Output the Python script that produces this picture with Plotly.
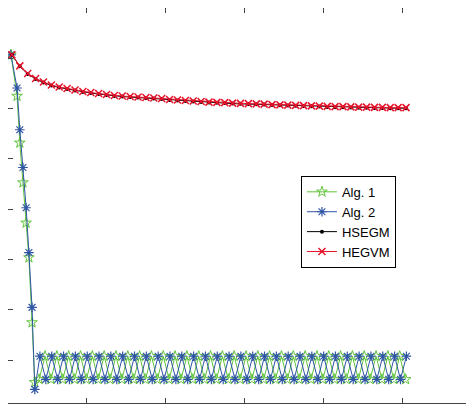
import plotly.graph_objects as go

# early iterations
alg1_x_start = [0.75, 2.3, 3.0, 3.8, 4.6, 5.3, 6.1, 6.8]
alg1_y_start = [7.07, 6.25, 5.32, 4.53, 3.73, 3.04, 1.75, 0.56]
alg2_x_start = [0.75, 2.3, 3.0, 3.8, 4.6, 5.3, 6.1, 6.8]
alg2_y_start = [7.07, 6.41, 5.58, 4.83, 4.03, 3.14, 2.05, 0.42]

# oscillating tail
alg1_y_tail = [0.62, 1.08, 0.62, 1.08, 0.62, 1.08, 0.62, 1.08, 0.62, 1.08,
               0.62, 1.08, 0.62, 1.08, 0.62, 1.08, 0.62, 1.08, 0.62, 1.08,
               0.62, 1.08, 0.62, 1.08, 0.62, 1.08, 0.62, 1.08, 0.62, 1.08,
               0.62, 1.08, 0.62, 1.08, 0.62, 1.08, 0.62, 1.08, 0.62, 1.08,
               0.62, 1.08, 0.62, 1.08, 0.62, 1.08, 0.62, 1.08, 0.62, 1.08,
               0.62, 1.08, 0.62, 1.08, 0.62, 1.08, 0.62, 1.08, 0.62, 1.08,
               0.62, 1.08, 0.62]
alg2_y_tail = [1.08, 0.62, 1.08, 0.62, 1.08, 0.62, 1.08, 0.62, 1.08, 0.62,
               1.08, 0.62, 1.08, 0.62, 1.08, 0.62, 1.08, 0.62, 1.08, 0.62,
               1.08, 0.62, 1.08, 0.62, 1.08, 0.62, 1.08, 0.62, 1.08, 0.62,
               1.08, 0.62, 1.08, 0.62, 1.08, 0.62, 1.08, 0.62, 1.08, 0.62,
               1.08, 0.62, 1.08, 0.62, 1.08, 0.62, 1.08, 0.62, 1.08, 0.62,
               1.08, 0.62, 1.08, 0.62, 1.08, 0.62, 1.08, 0.62, 1.08, 0.62,
               1.08, 0.62, 1.08]

hegvm = [7.07, 6.85, 6.70, 6.60, 6.53, 6.47, 6.43, 6.40, 6.37, 6.34,
         6.32, 6.30, 6.28, 6.26, 6.25, 6.24, 6.23, 6.22, 6.21, 6.20,
         6.18, 6.17, 6.16, 6.15, 6.14, 6.13, 6.125, 6.12, 6.11, 6.105,
         6.10, 6.095, 6.09, 6.08, 6.075, 6.07, 6.065, 6.06, 6.055, 6.05,
         6.045, 6.04, 6.04, 6.035, 6.03, 6.03, 6.025, 6.025, 6.02, 6.02, 6.02]
hsegm = [7.07, 6.84, 6.69, 6.59, 6.52, 6.46, 6.42, 6.39, 6.36, 6.33,
         6.31, 6.29, 6.27, 6.25, 6.24, 6.23, 6.22, 6.21, 6.20, 6.19,
         6.17, 6.16, 6.15, 6.14, 6.13, 6.12, 6.115, 6.11, 6.10, 6.095,
         6.09, 6.085, 6.08, 6.07, 6.065, 6.06, 6.055, 6.05, 6.045, 6.04,
         6.035, 6.03, 6.03, 6.025, 6.02, 6.02, 6.015, 6.015, 6.01, 6.01, 6.01]

alg1_x = alg1_x_start + [7.9 + 1.5 * i for i in range(len(alg1_y_tail))]
alg1_y = alg1_y_start + alg1_y_tail
alg2_x = alg2_x_start + [8.1 + 1.5 * i for i in range(len(alg2_y_tail))]
alg2_y = alg2_y_start + alg2_y_tail
iter_x = [1 + 2 * i for i in range(len(hegvm))]

green = "#5fc43a"
blue = "#2f55a5"
red = "#e8132b"

fig = go.Figure()
fig.add_trace(go.Scatter(x=alg1_x, y=alg1_y, name="Alg. 1", mode="lines+markers",
                         line=dict(color=green, width=1),
                         marker=dict(symbol="star-open", size=8, color=green, line=dict(width=1))))
fig.add_trace(go.Scatter(x=alg2_x, y=alg2_y, name="Alg. 2", mode="lines+markers",
                         line=dict(color=blue, width=1),
                         marker=dict(symbol="asterisk-open", size=8, color=blue, line=dict(width=1.2, color=blue))))
fig.add_trace(go.Scatter(x=iter_x, y=hsegm, name="HSEGM", mode="lines+markers",
                         line=dict(color="black", width=1),
                         marker=dict(symbol="circle", size=4, color="black")))
fig.add_trace(go.Scatter(x=iter_x, y=hegvm, name="HEGVM", mode="lines+markers",
                         line=dict(color=red, width=1),
                         marker=dict(symbol="x-thin-open", size=7, color=red, line=dict(width=1.5, color=red))))

fig.update_layout(
    width=466, height=398,
    margin=dict(l=0, r=1, t=0, b=3),
    plot_bgcolor="white", paper_bgcolor="white",
    font=dict(family="Liberation Sans, Arial", size=13, color="black"),
    legend=dict(x=0.63, y=0.575, xanchor="left", yanchor="top",
                bordercolor="black", borderwidth=1, bgcolor="white",
                tracegroupgap=0, font=dict(size=13)),
)
fig.update_xaxes(range=[0, 118], tickvals=[20, 40, 60, 80, 100], showticklabels=False,
                 ticks="inside", ticklen=5, mirror="allticks", showline=True,
                 linecolor="#444", showgrid=False, zeroline=False)
fig.update_yaxes(range=[0.15, 8], tickvals=[1, 2, 3, 4, 5, 6, 7], showticklabels=False,
                 ticks="inside", ticklen=5, mirror="allticks", showline=True,
                 linecolor="#444", showgrid=False, zeroline=False)

fig.write_html("out.html")
